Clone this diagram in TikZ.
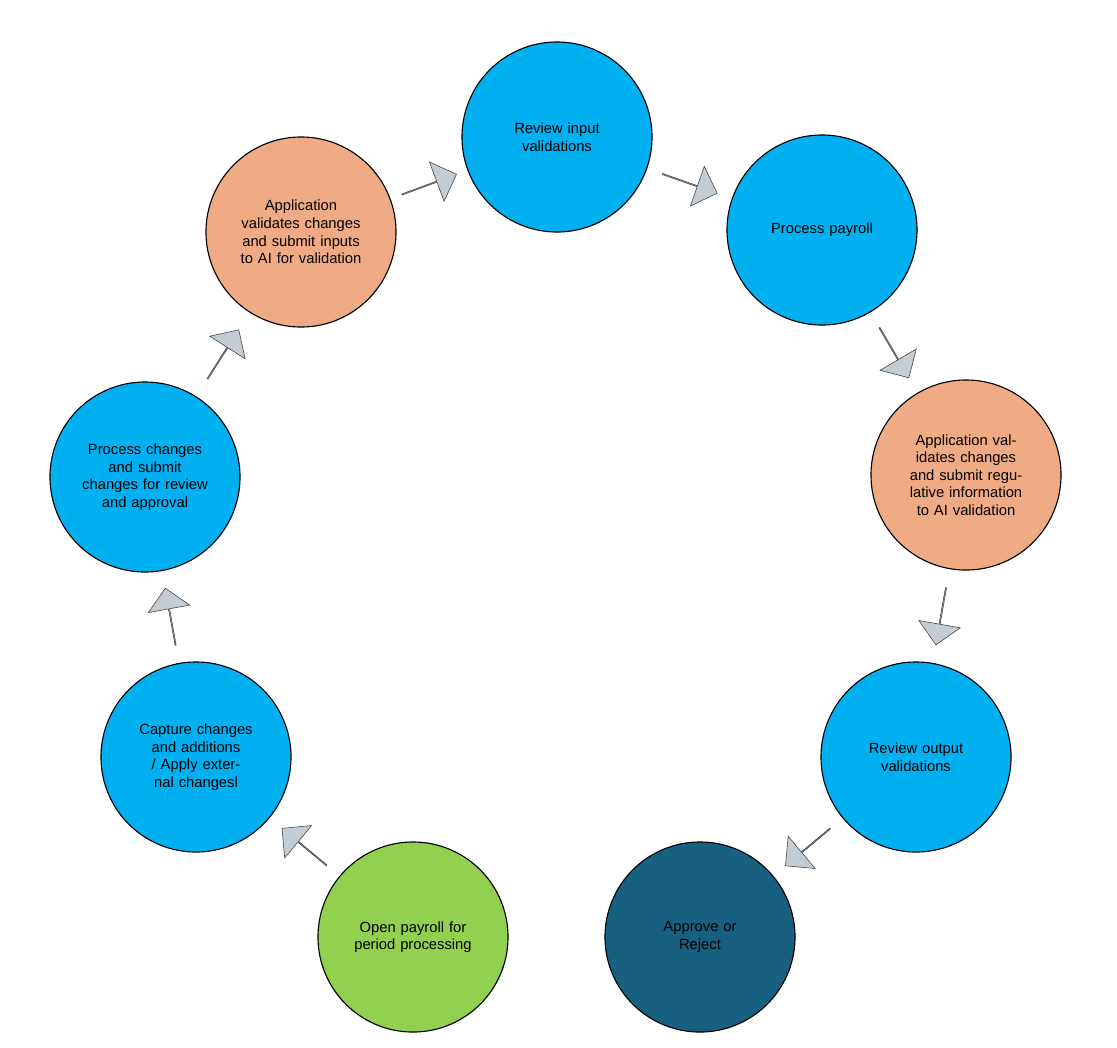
\documentclass[tikz,border=0pt]{standalone}
\usepackage{fontspec}
\setmainfont{Liberation Sans}
\usetikzlibrary{calc,shapes.arrows}
\definecolor{stepblue}{HTML}{00B0F0}
\definecolor{steporange}{HTML}{F0AA84}
\definecolor{stepgreen}{HTML}{92D050}
\definecolor{stepdark}{HTML}{17607F}
\definecolor{arrowgray}{HTML}{C4CCD4}
\begin{document}
\begin{tikzpicture}[x=0.025cm,y=-0.025cm,
						stage/.style={circle, draw=black, thick, minimum size=4.75cm, inner sep=0pt, align=center, text width=3.2cm, font=\fontsize{10.5}{12.5}\selectfont},
						bluestage/.style={stage, fill=stepblue},
						orangestage/.style={stage, fill=steporange},
						flow/.style={single arrow, draw=black!75, fill=arrowgray, minimum height=1.45cm, minimum width=1.05cm, single arrow head extend=0.25cm, inner sep=0pt}
						]
						\useasboundingbox (0,0) rectangle (1117,1047);
						\node[bluestage] (s1) at (557,137) {Review input\\validations\\[3.2em]};
						\node[bluestage] (s2) at (822,230) {Process payroll};
						\node[orangestage] (s3) at (966,475) {Application validates changes and submit regulative information to AI validation};
						\node[bluestage] (s4) at (916,757) {Review output validations};
						\node[stage, fill=stepdark] (s5) at (700,937) {Approve or\\Reject};
						\node[stage, fill=stepgreen] (s6) at (413,937) {Open payroll for period processing};
						\node[bluestage] (s7) at (196,757) {Capture changes and additions / Apply external changesl};
						\node[bluestage] (s8) at (145,477) {Process changes and submit changes for review and approval};
						\node[orangestage] (s9) at (301,232) {Application validates changes and submit inputs to AI for validation};
						
						\foreach \a/\b in {s9/s1, s1/s2, s2/s3, s3/s4, s4/s5, s6/s7, s7/s8, s8/s9}
						\path let \p1=($(\b)-(\a)$) in
						node[flow, rotate={atan2(\y1,\x1)}] (a-\a) at ($(\a)!0.5!(\b)$) {};
					\end{tikzpicture}
\end{document}
